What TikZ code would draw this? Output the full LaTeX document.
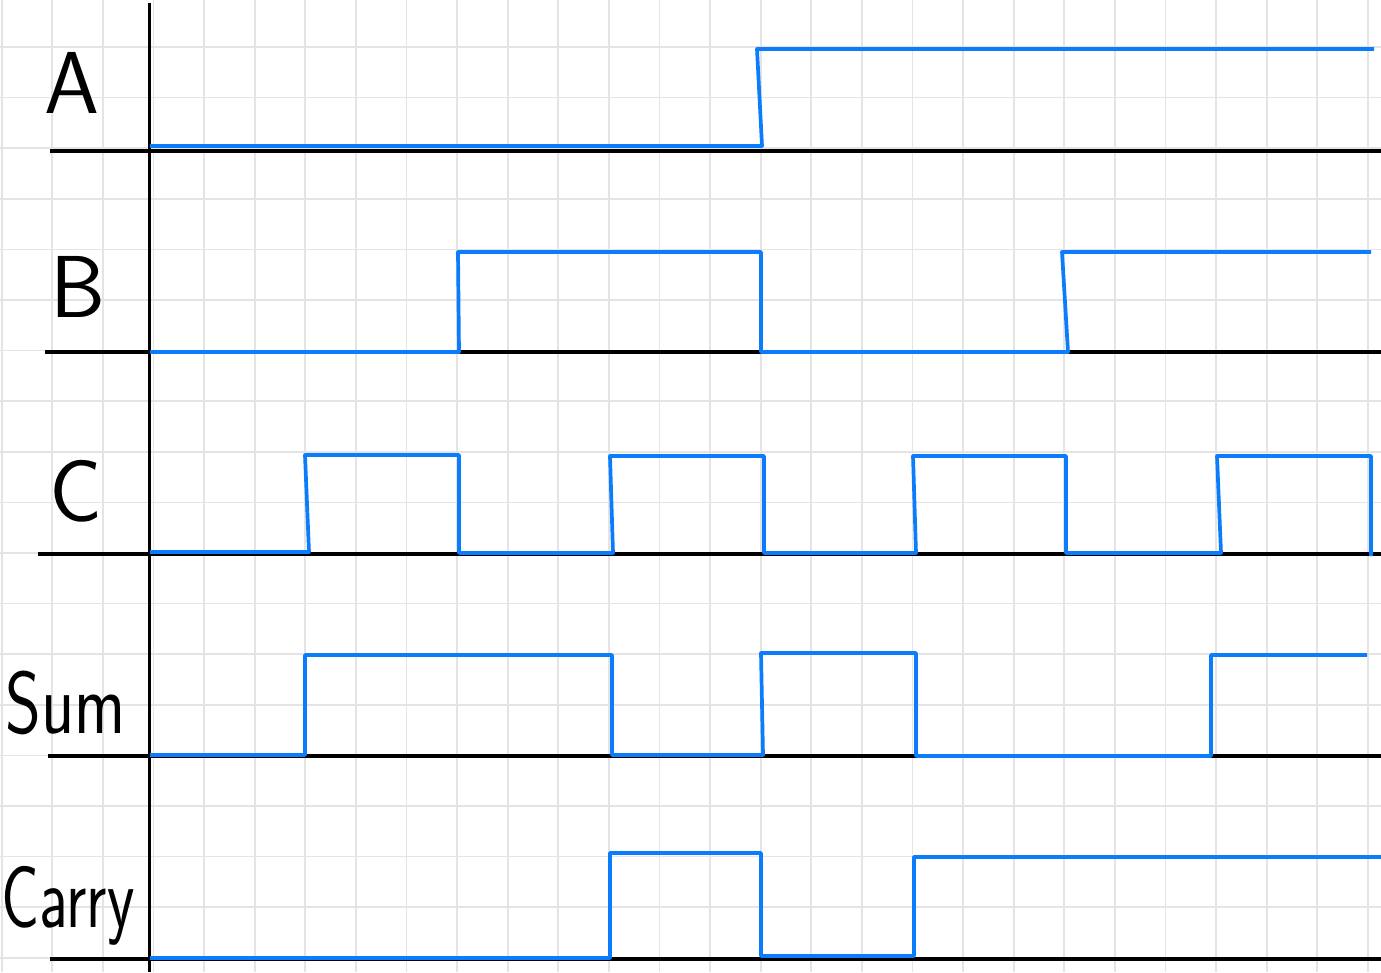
\documentclass[tikz,border=0pt]{standalone}
\usepackage{fontspec}
\definecolor{sigblue}{RGB}{10,124,252}
\definecolor{gridgray}{RGB}{228,228,228}

\begin{document}
\begin{tikzpicture}[x=1pt, y=-1pt,
		lab/.style = {font=\sffamily\fontsize{88}{88}\selectfont, inner sep=0pt}]
		\useasboundingbox (0,0) rectangle (1381,972);
		\fill[white] (0,0) rectangle (1381,972);
		
		% squared paper
		\begin{scope}[gridgray, line width=1.7pt]
			\foreach \i in {0,...,27}
				\draw ({1.7+50.6*\i},0) -- ({1.7+50.6*\i},972);
			\foreach \j in {1,...,19}
				\draw (0,{-3.6+50.6*\j}) -- (1381,{-3.6+50.6*\j});
		\end{scope}
		
		% axes
		\begin{scope}[black, line width=3.2pt]
			\draw (149.7,3) -- (149.7,972);
			\draw (50,151) -- (1381,151);
			\draw (45,352) -- (1381,352);
			\draw (38,554) -- (1381,554);
			\draw (48,756) -- (1381,756);
			\draw (50,959) -- (1381,959);
		\end{scope}
		
		% signals
		\begin{scope}[sigblue, line width=3.7pt, line join=round]
			\draw (150,146) -- (762,146) -- (757,49) -- (1374,49);
			\draw (150,352) -- (459,352) -- (458,252) -- (761,252) -- (761,352)
				-- (1068,352) -- (1062,252) -- (1371,252);
			\draw (150,552) -- (309,552) -- (305,455) -- (459,455) -- (459,553)
				-- (613,553) -- (610,456) -- (764,456) -- (764,553)
				-- (916,553) -- (913,456) -- (1066,456) -- (1066,553)
				-- (1221,553) -- (1217,456) -- (1371,456) -- (1371,556);
			\draw (150,755) -- (305,755) -- (305,655) -- (612,655) -- (612,755)
				-- (763,755) -- (761,653) -- (916,653) -- (916,756)
				-- (1211,756) -- (1211,655) -- (1367,655);
			\draw (150,958) -- (610,958) -- (610,853) -- (761,853) -- (761,956)
				-- (914,956) -- (914,857) -- (1381,857);
		\end{scope}
		
		\node[lab] (labA) at (72,83) {A};
		\node[lab] (labB) at (78,287) {B};
		\node[lab] (labC) at (76,491) {C};
		\node[lab, xscale=0.78] (labSum) at (66,703) {Sum};
		\node[lab, xscale=0.72] (labCarry) at (68,906) {Carry};
	\end{tikzpicture}
\end{document}
